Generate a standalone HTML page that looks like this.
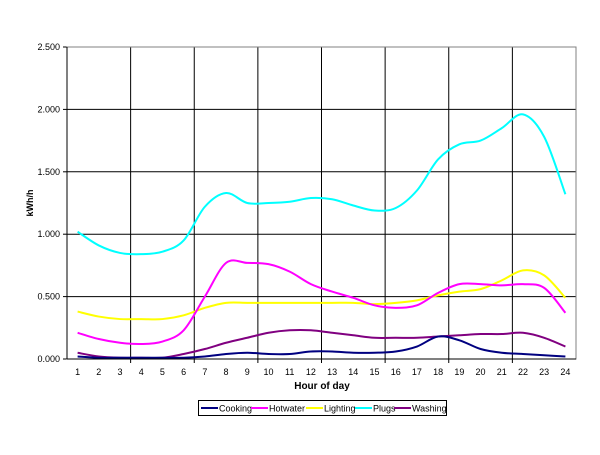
<!DOCTYPE html>
<html><head><meta charset="utf-8"><style>
body{margin:0;background:#fff;font-family:"Liberation Sans",Arial,sans-serif;}
svg text{font-family:"Liberation Sans",Arial,sans-serif;}
</style></head><body>
<svg id="chart" width="600" height="450" viewBox="0 0 600 450" xmlns="http://www.w3.org/2000/svg">
<rect width="600" height="450" fill="#fff"/>
<g id="grid"></g><g id="series"></g><g id="axes"></g>
<text x="322" y="389" font-size="10" font-weight="bold" text-anchor="middle" fill="#000">Hour of day</text>
<text transform="translate(33,203) rotate(-90)" font-size="9" font-weight="bold" text-anchor="middle" fill="#000">kWh/h</text>
<g id="legend"></g>
</svg>
<script>
const categories=["1","2","3","4","5","6","7","8","9","10","11","12","13","14","15","16","17","18","19","20","21","22","23","24"];
const cooking=[0.02,0.01,0.01,0.01,0.01,0.01,0.02,0.04,0.05,0.04,0.04,0.06,0.06,0.05,0.05,0.06,0.10,0.18,0.15,0.08,0.05,0.04,0.03,0.02];
const hotwater=[0.21,0.16,0.13,0.12,0.14,0.23,0.50,0.77,0.77,0.76,0.70,0.60,0.54,0.49,0.43,0.41,0.43,0.53,0.60,0.60,0.59,0.60,0.57,0.37];
const lighting=[0.38,0.34,0.32,0.32,0.32,0.35,0.41,0.45,0.45,0.45,0.45,0.45,0.45,0.45,0.44,0.45,0.47,0.51,0.54,0.56,0.63,0.71,0.67,0.49];
const plugs=[1.02,0.91,0.85,0.84,0.86,0.95,1.22,1.33,1.25,1.25,1.26,1.29,1.28,1.23,1.19,1.21,1.35,1.60,1.72,1.75,1.85,1.96,1.78,1.32];
const washing=[0.05,0.02,0.01,0.01,0.01,0.04,0.08,0.13,0.17,0.21,0.23,0.23,0.21,0.19,0.17,0.17,0.17,0.18,0.19,0.20,0.20,0.21,0.17,0.10];
const yTicks=["0.000","0.500","1.000","1.500","2.000","2.500"];
const seriesNames=["Cooking","Hotwater","Lighting","Plugs","Washing"];
const NS="http://www.w3.org/2000/svg";
const L=67,R=576,T=47,B=359,yMax=2.5;
const cw=(R-L)/categories.length;
const xS=i=>L+cw*(i+0.5);
const yS=v=>B-(v/yMax)*(B-T);
function mk(tag,attrs,parent){const e=document.createElementNS(NS,tag);for(const k in attrs)e.setAttribute(k,attrs[k]);parent.appendChild(e);return e;}
const grid=document.getElementById('grid'),axes=document.getElementById('axes'),ser=document.getElementById('series'),leg=document.getElementById('legend');
yTicks.forEach((t,i)=>{const v=parseFloat(t);const y=yS(v);
 if(v>0){const g=mk('line',{x1:L,x2:R,y1:y,y2:y,stroke:'#000','stroke-width':1},grid);}
 const tk=mk('line',{x1:L-4,x2:L,y1:y,y2:y,stroke:'#000'},axes);
 const tx=mk('text',{x:L-7,y:y+3,'font-size':9,'text-anchor':'end',fill:'#000'},axes);tx.textContent=t;
 });
for(let k=3;k<categories.length;k+=3){const x=L+cw*k;const g=mk('line',{x1:x,x2:x,y1:T,y2:B+4,stroke:'#000'},grid);
 }
const fr=mk('rect',{x:L,y:T,width:R-L,height:B-T,fill:'none',stroke:'#808080'},axes);

const ya=mk('line',{x1:L,x2:L,y1:T,y2:B,stroke:'#000'},axes);
const xa=mk('line',{x1:L,x2:R,y1:B,y2:B,stroke:'#000'},axes);
categories.forEach((c,i)=>{const tx=mk('text',{x:xS(i),y:B+16,'font-size':9,'text-anchor':'middle',fill:'#000'},axes);tx.textContent=c;
 });
function smooth(vals){const p=vals.map((v,i)=>[xS(i),yS(v)]);let d=`M${p[0][0]},${p[0][1]}`;
 for(let i=0;i<p.length-1;i++){const p0=p[i-1]||p[i],p1=p[i],p2=p[i+1],p3=p[i+2]||p2;
 const c1=[p1[0]+(p2[0]-p0[0])/6,p1[1]+(p2[1]-p0[1])/6],c2=[p2[0]-(p3[0]-p1[0])/6,p2[1]-(p3[1]-p1[1])/6];
 d+=` C${c1[0]},${c1[1]} ${c2[0]},${c2[1]} ${p2[0]},${p2[1]}`;}return d;}
const data=[cooking,hotwater,lighting,plugs,washing];
const colors=["#000080","#FF00FF","#FFFF00","#00FFFF","#800080"];
[3,2,1,4,0].forEach(i=>{const p=mk('path',{d:smooth(data[i]),fill:'none',stroke:colors[i],'stroke-width':2},ser);
 });
const lb=mk('rect',{x:198.5,y:400.5,width:248,height:15,fill:'#fff',stroke:'#000'},leg);

const lx=[201,251,306,355,394];
seriesNames.forEach((n,i)=>{const g=mk('g',{},leg);
 mk('line',{x1:lx[i],x2:lx[i]+17,y1:408,y2:408,stroke:colors[i],'stroke-width':2},g);
 const t=mk('text',{x:lx[i]+18,y:411.5,'font-size':9,fill:'#000'},g);t.textContent=n;});
</script>
</body></html>
